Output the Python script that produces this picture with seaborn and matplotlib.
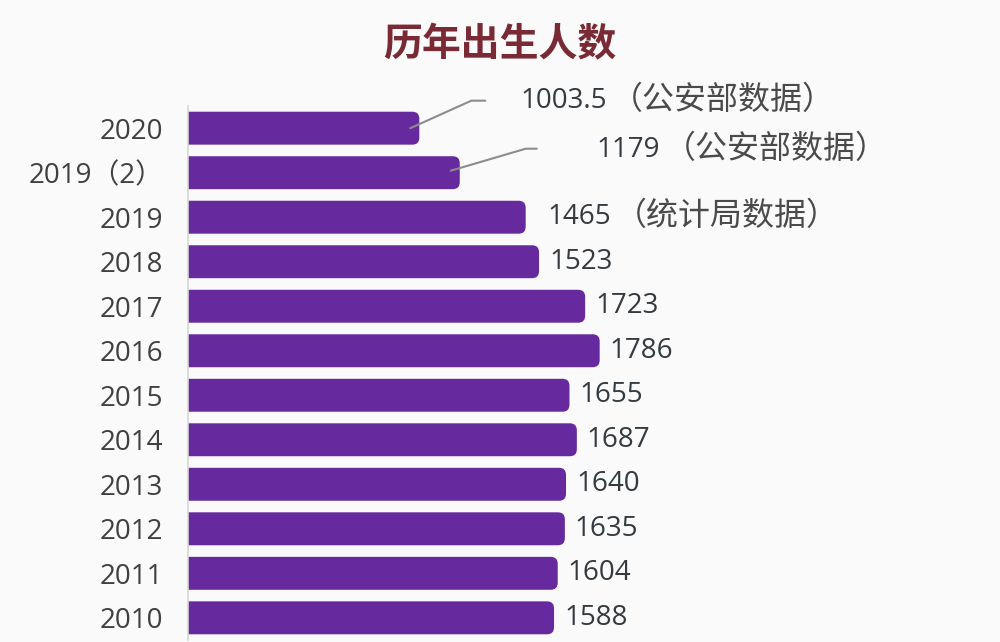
import numpy as np
import pandas as pd
import matplotlib
matplotlib.use("Agg")
import matplotlib.pyplot as plt
import seaborn as sns
from matplotlib.patches import FancyBboxPatch
from matplotlib.transforms import IdentityTransform

# data (births, 10k people)
years = ["2020", "2019（2）", "2019", "2018", "2017", "2016",
         "2015", "2014", "2013", "2012", "2011", "2010"]
births = [1003.5, 1179, 1465, 1523, 1723, 1786,
          1655, 1687, 1640, 1635, 1604, 1588]
value_text = ["1003.5", "1179", "1465", "1523", "1723", "1786",
              "1655", "1687", "1640", "1635", "1604", "1588"]
sources = ["（公安部数据）", "（公安部数据）", "（统计局数据）",
           "", "", "", "", "", "", "", "", ""]

df = pd.DataFrame({"year": years, "births": births})

sns.set_style("white")
plt.rcParams["font.family"] = ["Open Sans", "Noto Sans CJK SC", "DejaVu Sans"]

bg = "#fafafa"
fig = plt.figure(figsize=(10, 6.42), dpi=100, facecolor=bg)
ax = fig.add_axes([0.188, 0.003, 0.812, 0.832])
ax.set_facecolor(bg)

sns.barplot(data=df, x="births", y="year", orient="h", color="#672a9e",
            width=0.74, saturation=1, ax=ax)
ax.set_xlim(0, 812 / 0.2305)

# replace plain rectangles with right-rounded bars
px_x = 1 / 0.2305          # data units per pixel (x)
px_y = 1 / 44.5            # data units per pixel (y)
for p in list(ax.patches):
    x0, y0, w, h = p.get_x(), p.get_y(), p.get_width(), p.get_height()
    p.set_visible(False)
    fb = FancyBboxPatch((x0 - 40 * px_x, y0), w + 40 * px_x, h,
                        boxstyle=f"round,pad=0,rounding_size={7 * px_x}",
                        mutation_aspect=px_y / px_x,
                        facecolor="#672a9e", edgecolor="none")
    ax.add_patch(fb)

# value labels (number + optional source note)
for i, (v, num, src) in enumerate(zip(births, value_text, sources)):
    if i == 0:
        dx, dy = 101, 27
    elif i == 1:
        dx, dy = 137, 23
    elif i == 2:
        dx, dy = 22, 0
    else:
        dx, dy = 10, 0
    t = ax.annotate(num, xy=(v, i), xytext=(dx, dy), textcoords="offset pixels",
                    va="center", ha="left", fontsize=20, color="#333a40")
    if src:
        ax.annotate(src, xy=(1, 0.5), xycoords=t, xytext=(4, 1),
                    textcoords="offset pixels", va="center", ha="left",
                    fontsize=23, color="#4a4a4a", fontweight="light",
                    family=["Noto Sans CJK SC", "DejaVu Sans"])

# leader lines for the first two bars (pixel offsets from bar end)
leaders = {0: [(-9, 0), (52, -27.5), (66, -27.5)],
           1: [(-9, -2), (66, -24), (77, -24)]}
fig.canvas.draw()
for i, pts in leaders.items():
    bx, by = ax.transData.transform((births[i], i))
    xs = [bx + a for a, b in pts]
    ys = [by - b for a, b in pts]
    ax.add_line(plt.Line2D(xs, ys, transform=IdentityTransform(),
                           color="#8c8c8c", lw=1.5, clip_on=False))

# axis styling
for s in ["top", "right", "bottom"]:
    ax.spines[s].set_visible(False)
ax.spines["left"].set_color("#d6d6d6")
ax.spines["left"].set_linewidth(1.2)
ax.set_xticks([])
ax.set_xlabel("")
ax.set_ylabel("")
ax.tick_params(axis="y", which="major", length=0, pad=18,
               labelsize=20, labelcolor="#404040")
ax.set_yticks(np.arange(-0.5, len(years), 1), minor=True)
ax.tick_params(axis="y", which="minor", length=12, color="#d6d6d6", width=1.2)

fig.text(0.5, 0.93, "历年出生人数", ha="center", va="center",
         fontsize=28, fontweight="bold", color="#7a2a35",
         family=["Noto Sans CJK SC", "DejaVu Sans"])

fig.savefig("out.png", dpi=100, facecolor=bg)
